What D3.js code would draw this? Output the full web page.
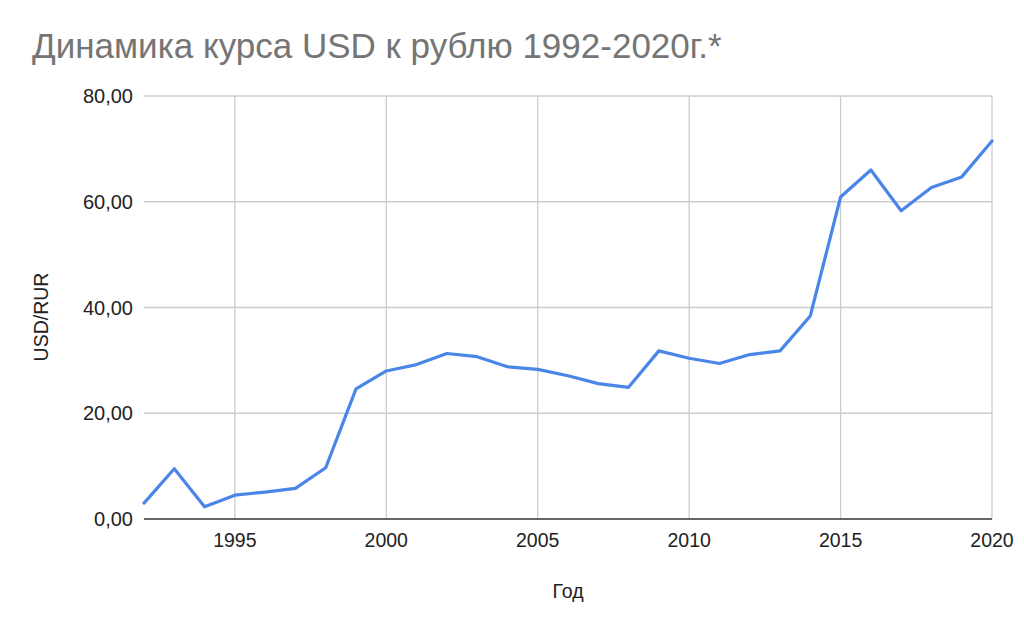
<!DOCTYPE html>
<html>
<head>
<meta charset="utf-8">
<script src="https://cdn.jsdelivr.net/npm/d3@7"></script>
<style>
  body { margin: 0; background: #fff; }
  text { font-family: "Liberation Sans", Arial, sans-serif; }
</style>
</head>
<body>
<svg id="chart" width="1024" height="633"></svg>
<script>
const years = [1992,1993,1994,1995,1996,1997,1998,1999,2000,2001,2002,2003,2004,2005,2006,2007,2008,2009,2010,2011,2012,2013,2014,2015,2016,2017,2018,2019,2020];
const rates = [3.0,9.5,2.3,4.5,5.1,5.8,9.7,24.6,28.0,29.2,31.3,30.7,28.8,28.3,27.1,25.6,24.9,31.8,30.4,29.4,31.1,31.8,38.4,60.9,66.0,58.3,62.7,64.7,71.5];
const xTicks = [1995,2000,2005,2010,2015,2020];
const yTicks = [0,20,40,60,80];
const title = "Динамика курса USD к рублю 1992-2020г.*";
const xTitle = "Год";
const yTitle = "USD/RUR";

(function(){
const svg = d3.select("#chart");
const pL = 144, pR = 992, pT = 96, pB = 519;
const x = d3.scaleLinear().domain([1992, 2020]).range([pL, pR]);
const y = d3.scaleLinear().domain([0, 80]).range([pB, pT]);

svg.append("rect").attr("width",1024).attr("height",633).attr("fill","#fff");

svg.append("text").attr("x",32).attr("y",58)
  .attr("font-size",35).attr("fill","#757575").text(title);

// horizontal grid
svg.append("g").selectAll("line").data(yTicks.filter(d=>d!==0)).join("line")
  .attr("x1",pL).attr("x2",pR)
  .attr("y1",d=>y(d)).attr("y2",d=>y(d))
  .attr("stroke","#cccccc").attr("stroke-width",1.3);
// vertical grid
svg.append("g").selectAll("line").data(xTicks).join("line")
  .attr("x1",d=>x(d)).attr("x2",d=>x(d))
  .attr("y1",pT).attr("y2",pB)
  .attr("stroke","#cccccc").attr("stroke-width",1.3);

// baseline
svg.append("line").attr("x1",pL).attr("x2",pR)
  .attr("y1",y(0)).attr("y2",y(0)).attr("stroke","#333").attr("stroke-width",1.3);

// y tick labels
const fmt = d => d3.format(".2f")(d).replace(".", ",");
svg.append("g").selectAll("text").data(yTicks).join("text")
  .attr("x",133).attr("y",d=>y(d)+7)
  .attr("text-anchor","end").attr("font-size",20).attr("fill","#222")
  .text(fmt);

// x tick labels
svg.append("g").selectAll("text").data(xTicks).join("text")
  .attr("x",d=>x(d)).attr("y",547)
  .attr("text-anchor","middle").attr("font-size",19.5).attr("fill","#222")
  .text(d=>d);

// axis titles
svg.append("text").attr("x",568).attr("y",598).attr("text-anchor","middle")
  .attr("font-size",19.5).attr("fill","#222").text(xTitle);
svg.append("text").attr("transform","translate(48,317) rotate(-90)")
  .attr("text-anchor","middle").attr("font-size",19.5).attr("fill","#222").text(yTitle);

// line
const line = d3.line().x((d,i)=>x(years[i])).y(d=>y(d));
svg.append("path").datum(rates).attr("d",line)
  .attr("fill","none").attr("stroke","#4a86e8").attr("stroke-width",3.2)
  .attr("stroke-linejoin","round").attr("stroke-linecap","round");
})();
</script>
</body>
</html>
